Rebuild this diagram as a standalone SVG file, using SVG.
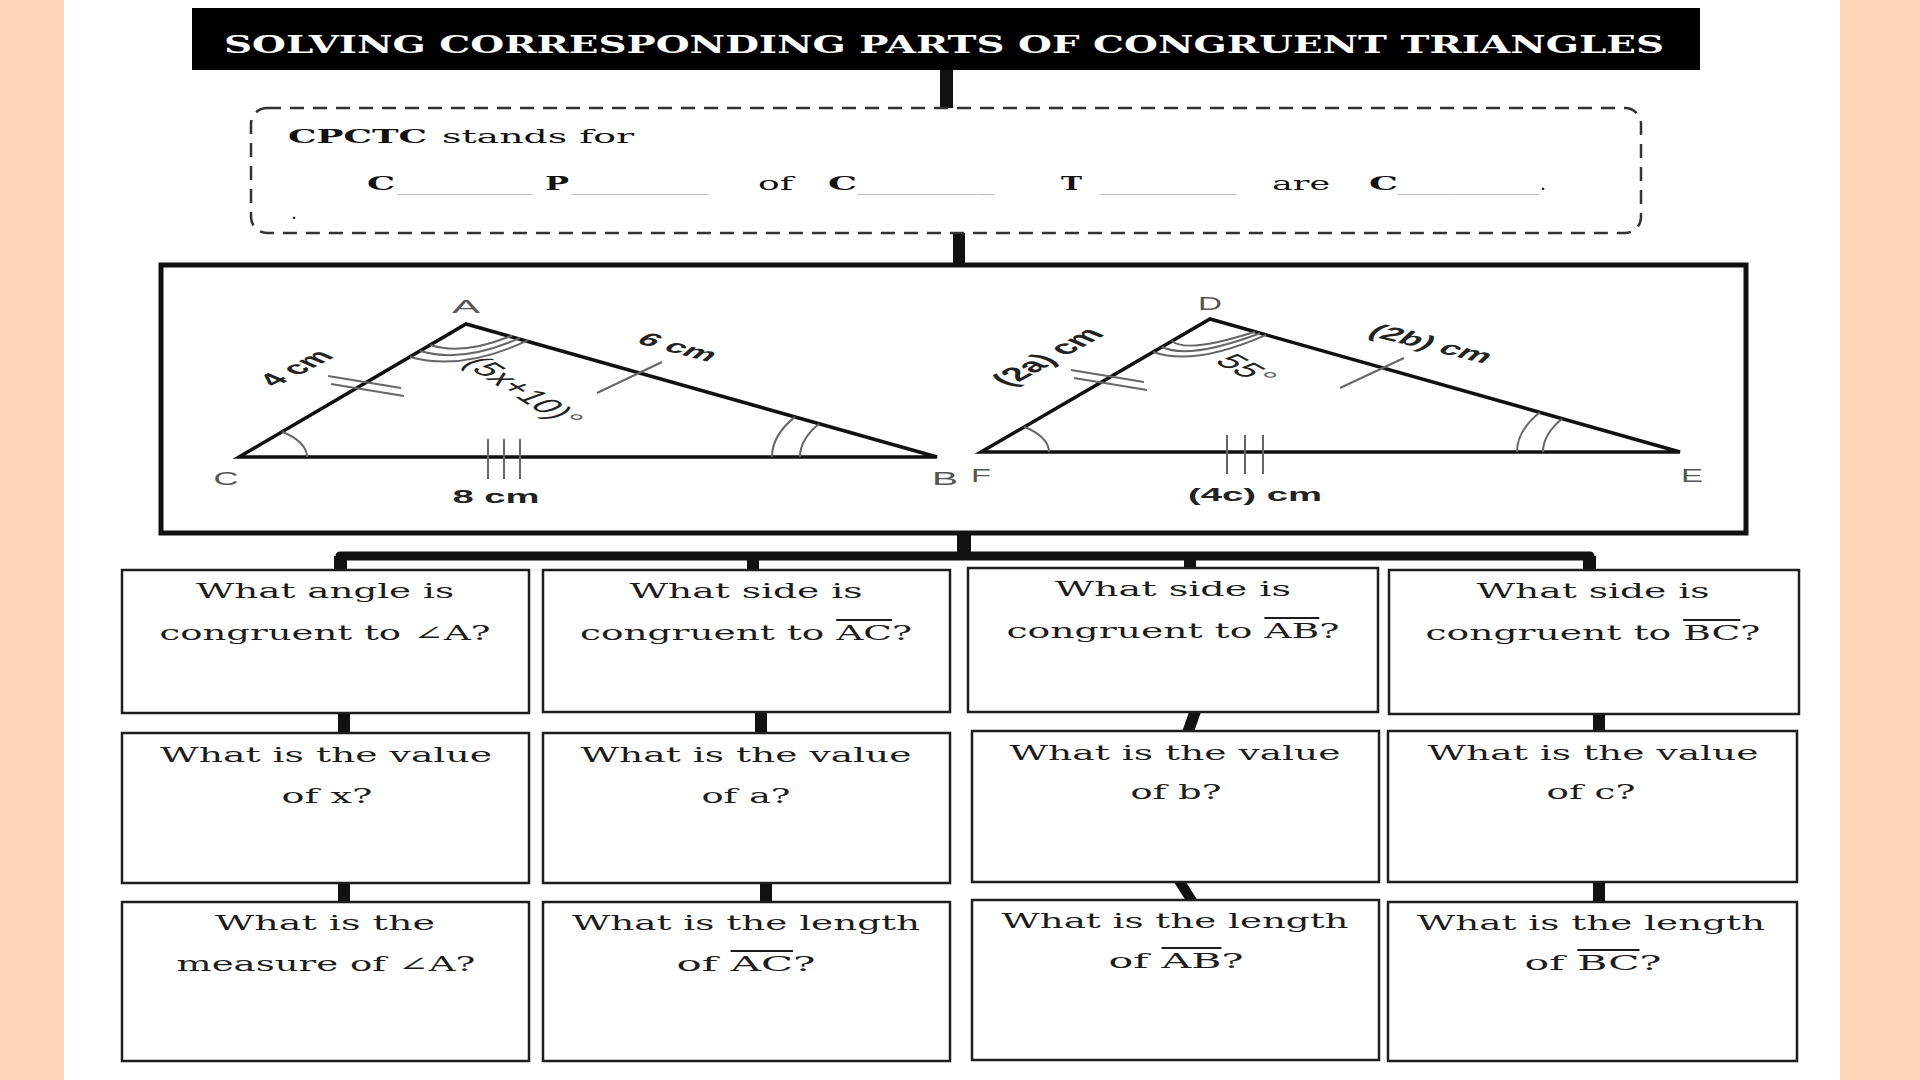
<svg xmlns="http://www.w3.org/2000/svg" width="1920" height="1080" viewBox="0 0 1920 1080">
<style>
.bx{fill:#fff;stroke:#1e1e1e;stroke-width:2.5}
.q{font-family:"DejaVu Serif","DejaVu Sans","Liberation Serif",serif;font-size:20px;fill:#1c1c1c;text-anchor:middle}
.ov{text-decoration:overline}
.side{stroke:#111;stroke-width:3.5;fill:none;stroke-linejoin:miter}
.tick{stroke:#666;stroke-width:2;fill:none}
.arc{stroke:#666;stroke-width:2;fill:none}
.lbl{font-family:"Liberation Sans",Arial,sans-serif;font-size:19px;fill:#555;text-anchor:middle}
.cm{font-family:"Liberation Sans",Arial,sans-serif;font-size:18px;font-weight:bold;fill:#222;text-anchor:middle}
.rot{font-family:"Liberation Sans",Arial,sans-serif;fill:#222;text-anchor:middle}
.c1{font-family:"DejaVu Serif","Liberation Serif",serif;font-size:19px;fill:#111}
.b{font-weight:bold}
.us{fill:#888}
.con{fill:#111}
</style>
<rect x="0" y="0" width="1920" height="1080" fill="#FCD6B5"/>
<rect x="64" y="0" width="1776" height="1080" fill="#FFFFFF"/>

<g id="connectors">
  <rect class="con" x="940" y="70" width="13" height="39"/>
  <rect class="con" x="953" y="232" width="12" height="34"/>
  <rect class="con" x="957" y="532" width="14" height="25"/>
  <path d="M340,571 L340,556 L1590,556 L1590,571" fill="none" stroke="#111" stroke-width="9" stroke-linejoin="round"/>
  <rect class="con" x="334" y="556" width="13" height="15"/>
  <rect class="con" x="1583" y="556" width="13" height="15"/>
  <rect class="con" x="747" y="556" width="12" height="15"/>
  <rect class="con" x="1184" y="556" width="12" height="14"/>
  <rect class="con" x="338" y="713" width="12" height="21"/>
  <rect class="con" x="755" y="712" width="12" height="22"/>
  <polygon class="con" points="1189,712 1201,712 1194,732 1182,732"/>
  <rect class="con" x="1593" y="713" width="12" height="19"/>
  <rect class="con" x="338" y="882" width="12" height="21"/>
  <rect class="con" x="760" y="882" width="12" height="21"/>
  <polygon class="con" points="1174,882 1186,882 1198,901 1186,901"/>
  <rect class="con" x="1593" y="881" width="12" height="21"/>
</g>

<g id="title">
  <rect x="192" y="8" width="1508" height="62" fill="#000"/>
  <text x="944" y="53" font-family="'DejaVu Serif','Liberation Serif',serif" font-weight="bold" font-size="24" fill="#fff" text-anchor="middle" textLength="1440" lengthAdjust="spacingAndGlyphs">SOLVING CORRESPONDING PARTS OF CONGRUENT TRIANGLES</text>
</g>

<g id="cpctc">
  <rect x="251" y="108" width="1390" height="125" rx="16" ry="16" fill="#fff" stroke="#333" stroke-width="2.5" stroke-dasharray="14 9"/>
  <text class="c1" y="143"><tspan x="288" class="b" textLength="139" lengthAdjust="spacingAndGlyphs">CPCTC</tspan></text>
  <text class="c1" x="442" y="143" textLength="192" lengthAdjust="spacingAndGlyphs">stands for</text>
  <text class="c1 b" x="367" y="190" textLength="28" lengthAdjust="spacingAndGlyphs">C</text>
  <text class="c1 us" x="397" y="190" textLength="136" lengthAdjust="spacingAndGlyphs">________</text>
  <text class="c1 b" x="545" y="190" textLength="24" lengthAdjust="spacingAndGlyphs">P</text>
  <text class="c1 us" x="571" y="190" textLength="138" lengthAdjust="spacingAndGlyphs">________</text>
  <text class="c1" x="758" y="190" textLength="35" lengthAdjust="spacingAndGlyphs">of</text>
  <text class="c1 b" x="828" y="190" textLength="29" lengthAdjust="spacingAndGlyphs">C</text>
  <text class="c1 us" x="857" y="190" textLength="137" lengthAdjust="spacingAndGlyphs">________</text>
  <text class="c1 b" x="1061" y="190" textLength="21" lengthAdjust="spacingAndGlyphs">T</text>
  <text class="c1 us" x="1100" y="190" textLength="136" lengthAdjust="spacingAndGlyphs">________</text>
  <text class="c1" x="1272" y="190" textLength="58" lengthAdjust="spacingAndGlyphs">are</text>
  <text class="c1 b" x="1369" y="190" textLength="29" lengthAdjust="spacingAndGlyphs">C</text>
  <text class="c1 us" x="1398" y="190" textLength="141" lengthAdjust="spacingAndGlyphs">________</text>
  <text class="c1" x="1540" y="190">.</text>
  <text class="c1" x="291" y="219">.</text>
</g>

<g id="triangles">
  <rect x="161" y="265" width="1585" height="268" fill="#fff" stroke="#111" stroke-width="5"/>
  <!-- triangle ABC -->
  <polygon class="side" points="239,457 466,324 937,457"/>
  <path class="arc" d="M430.5,345 Q463,355.7 512,335.6"/>
  <path class="arc" d="M420.2,351 Q463,363.6 520,337.9"/>
  <path class="arc" d="M410,357 Q463,371.4 528,340.1"/>
  <path class="arc" d="M307,457 A68,32.4 0 0 0 282,431.8"/>
  <path class="arc" d="M800,457 A137,65.2 0 0 1 819.2,423.7"/>
  <path class="arc" d="M772,457 A165,78.6 0 0 1 795,416.9"/>
  <line class="tick" x1="328" y1="376" x2="401" y2="388"/>
  <line class="tick" x1="331" y1="384" x2="404" y2="396"/>
  <line class="tick" x1="597" y1="393" x2="662" y2="362"/>
  <line class="tick" x1="488" y1="439" x2="488" y2="479"/>
  <line class="tick" x1="504" y1="439" x2="504" y2="479"/>
  <line class="tick" x1="520" y1="439" x2="520" y2="479"/>
  <text class="lbl" x="466" y="313" textLength="28" lengthAdjust="spacingAndGlyphs">A</text>
  <text class="lbl" x="226" y="485" textLength="25" lengthAdjust="spacingAndGlyphs">C</text>
  <text class="lbl" x="945" y="485" textLength="26" lengthAdjust="spacingAndGlyphs">B</text>
  <text class="cm" x="496" y="503" textLength="87" lengthAdjust="spacingAndGlyphs">8 cm</text>
  <text class="rot" font-size="18" font-weight="bold" transform="translate(296,368) scale(2.1,1) rotate(-46.9)" x="0" y="6" textLength="42" lengthAdjust="spacingAndGlyphs">4 cm</text>
  <text class="rot" font-size="18" font-weight="bold" transform="translate(678,347) scale(2.1,1) rotate(28.6)" x="0" y="6" textLength="40" lengthAdjust="spacingAndGlyphs">6 cm</text>
  <text class="rot" font-size="20" transform="translate(524,391) scale(2.1,1) rotate(52.7)" x="0" y="7" textLength="80" lengthAdjust="spacingAndGlyphs">(5x+10)<tspan fill="#666">°</tspan></text>

  <!-- triangle DEF -->
  <polygon class="side" points="981,452 1210,319 1680,452"/>
  <path class="arc" d="M1172,341 Q1186.5,353.6 1255,331.7"/>
  <path class="arc" d="M1161.8,347 Q1189,359.9 1260,333.2"/>
  <path class="arc" d="M1153.2,352 Q1194,366.6 1266,334.8"/>
  <path class="arc" d="M1049,452 A68,32.4 0 0 0 1024,426.8"/>
  <path class="arc" d="M1543,452 A137,65.2 0 0 1 1562.2,418.7"/>
  <path class="arc" d="M1517,452 A163,77.6 0 0 1 1539.9,412.3"/>
  <line class="tick" x1="1071" y1="370" x2="1144" y2="382"/>
  <line class="tick" x1="1074" y1="378" x2="1147" y2="390"/>
  <line class="tick" x1="1340" y1="388" x2="1404" y2="358"/>
  <line class="tick" x1="1227" y1="435" x2="1227" y2="474"/>
  <line class="tick" x1="1245" y1="435" x2="1245" y2="474"/>
  <line class="tick" x1="1263" y1="435" x2="1263" y2="474"/>
  <text class="lbl" x="1210" y="310" textLength="24" lengthAdjust="spacingAndGlyphs">D</text>
  <text class="lbl" x="981" y="482" textLength="20" lengthAdjust="spacingAndGlyphs">F</text>
  <text class="lbl" x="1692" y="482" textLength="22" lengthAdjust="spacingAndGlyphs">E</text>
  <text class="cm" x="1255" y="501" textLength="134" lengthAdjust="spacingAndGlyphs">(4c) cm</text>
  <text class="rot" font-size="19" font-weight="bold" transform="translate(1048,357) scale(2.1,1) rotate(-48.9)" x="0" y="6" textLength="70" lengthAdjust="spacingAndGlyphs">(2a) cm</text>
  <text class="rot" font-size="19" font-weight="bold" transform="translate(1431,344) scale(2.1,1) rotate(26.8)" x="0" y="6" textLength="63" lengthAdjust="spacingAndGlyphs">(2b) cm</text>
  <text class="rot" font-size="20" transform="translate(1247,369) scale(2.1,1) rotate(48)" x="0" y="7" textLength="32" lengthAdjust="spacingAndGlyphs">55<tspan fill="#666">°</tspan></text>
</g>

<g id="q-angle">
  <rect class="bx" x="122" y="570" width="407" height="143"/>
  <text class="q" x="325" y="598" textLength="258" lengthAdjust="spacingAndGlyphs">What angle is</text>
  <text class="q" x="325" y="640" textLength="331" lengthAdjust="spacingAndGlyphs">congruent to ∠A?</text>
</g>
<g id="q-side-ac">
  <rect class="bx" x="543" y="570" width="407" height="142"/>
  <text class="q" x="746" y="598" textLength="233" lengthAdjust="spacingAndGlyphs">What side is</text>
  <text class="q" x="746" y="640" textLength="332" lengthAdjust="spacingAndGlyphs">congruent to <tspan class="ov">AC</tspan>?</text>
</g>
<g id="q-side-ab">
  <rect class="bx" x="968" y="568" width="410" height="144"/>
  <text class="q" x="1173" y="596" textLength="236" lengthAdjust="spacingAndGlyphs">What side is</text>
  <text class="q" x="1173" y="638" textLength="333" lengthAdjust="spacingAndGlyphs">congruent to <tspan class="ov">AB</tspan>?</text>
</g>
<g id="q-side-bc">
  <rect class="bx" x="1389" y="570" width="410" height="144"/>
  <text class="q" x="1593" y="598" textLength="233" lengthAdjust="spacingAndGlyphs">What side is</text>
  <text class="q" x="1593" y="640" textLength="335" lengthAdjust="spacingAndGlyphs">congruent to <tspan class="ov">BC</tspan>?</text>
</g>

<g id="q-value-x">
  <rect class="bx" x="122" y="733" width="407" height="150"/>
  <text class="q" x="326" y="762" textLength="332" lengthAdjust="spacingAndGlyphs">What is the value</text>
  <text class="q" x="327" y="803" textLength="91" lengthAdjust="spacingAndGlyphs">of x?</text>
</g>
<g id="q-value-a">
  <rect class="bx" x="543" y="733" width="407" height="150"/>
  <text class="q" x="746" y="762" textLength="331" lengthAdjust="spacingAndGlyphs">What is the value</text>
  <text class="q" x="746" y="803" textLength="89" lengthAdjust="spacingAndGlyphs">of a?</text>
</g>
<g id="q-value-b">
  <rect class="bx" x="972" y="731" width="407" height="151"/>
  <text class="q" x="1175" y="760" textLength="331" lengthAdjust="spacingAndGlyphs">What is the value</text>
  <text class="q" x="1176" y="799" textLength="91" lengthAdjust="spacingAndGlyphs">of b?</text>
</g>
<g id="q-value-c">
  <rect class="bx" x="1388" y="731" width="409" height="151"/>
  <text class="q" x="1593" y="760" textLength="331" lengthAdjust="spacingAndGlyphs">What is the value</text>
  <text class="q" x="1591" y="799" textLength="89" lengthAdjust="spacingAndGlyphs">of c?</text>
</g>

<g id="q-measure-a">
  <rect class="bx" x="122" y="902" width="407" height="159"/>
  <text class="q" x="325" y="930" textLength="220" lengthAdjust="spacingAndGlyphs">What is the</text>
  <text class="q" x="326" y="971" textLength="299" lengthAdjust="spacingAndGlyphs">measure of ∠A?</text>
</g>
<g id="q-length-ac">
  <rect class="bx" x="543" y="902" width="407" height="159"/>
  <text class="q" x="746" y="930" textLength="348" lengthAdjust="spacingAndGlyphs">What is the length</text>
  <text class="q" x="746" y="971" textLength="139" lengthAdjust="spacingAndGlyphs">of  <tspan class="ov">AC</tspan>?</text>
</g>
<g id="q-length-ab">
  <rect class="bx" x="972" y="900" width="407" height="160"/>
  <text class="q" x="1175" y="928" textLength="347" lengthAdjust="spacingAndGlyphs">What is the length</text>
  <text class="q" x="1176" y="968" textLength="135" lengthAdjust="spacingAndGlyphs">of  <tspan class="ov">AB</tspan>?</text>
</g>
<g id="q-length-bc">
  <rect class="bx" x="1388" y="902" width="409" height="159"/>
  <text class="q" x="1591" y="930" textLength="348" lengthAdjust="spacingAndGlyphs">What is the length</text>
  <text class="q" x="1593" y="970" textLength="137" lengthAdjust="spacingAndGlyphs">of  <tspan class="ov">BC</tspan>?</text>
</g>
</svg>
